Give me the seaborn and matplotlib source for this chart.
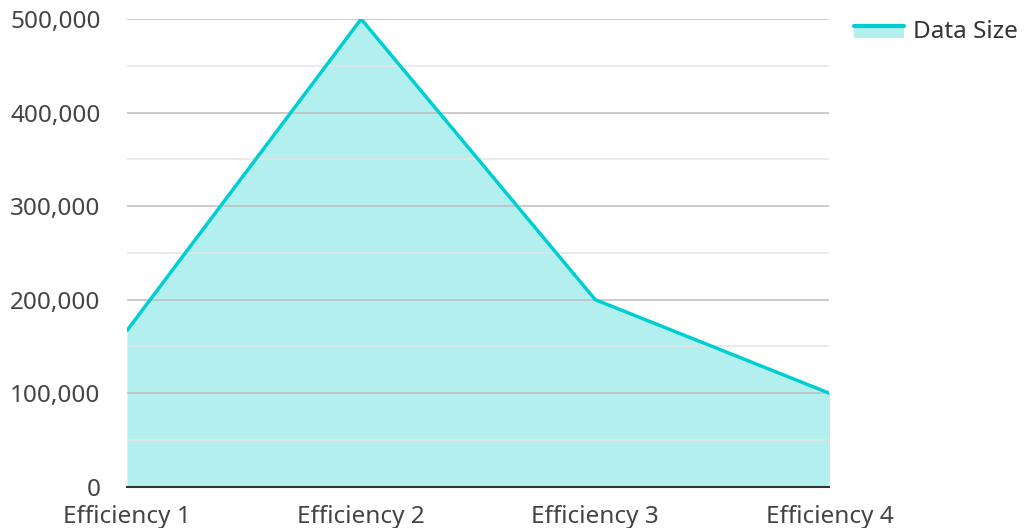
import matplotlib
matplotlib.use("Agg")
import matplotlib.pyplot as plt
import matplotlib.ticker as mticker
from matplotlib.legend_handler import HandlerBase
from matplotlib.patches import Rectangle
from matplotlib.lines import Line2D
import pandas as pd
import seaborn as sns

categories = ["Efficiency 1", "Efficiency 2", "Efficiency 3", "Efficiency 4"]
data_size = [167000, 500000, 200000, 100000]
series_name = "Data Size"

line_col = "#00cfd1"
fill_col = "#b2efee"
fs = 17.5

sns.set_style("white")
plt.rcParams['font.family'] = ['Noto Sans', 'DejaVu Sans']
plt.rcParams['axes.axisbelow'] = 'line'

df = pd.DataFrame({"cat": categories, "pos": range(len(categories)), "val": data_size})

fig = plt.figure(figsize=(10.24, 5.28), dpi=100)
ax = fig.add_axes([0.124, 0.078, 0.686, 0.886])

ax.fill_between(df["pos"], 0, df["val"], color=fill_col, lw=0, zorder=1)
sns.lineplot(data=df, x="pos", y="val", ax=ax, color=line_col, lw=2.5, zorder=3)

ax.set_xlim(0, len(categories) - 1)
ax.set_ylim(0, 500000)
ax.set_xticks(df["pos"])
ax.set_xticklabels(categories)
ax.yaxis.set_major_locator(mticker.MultipleLocator(100000))
ax.yaxis.set_minor_locator(mticker.MultipleLocator(50000))
ax.yaxis.set_major_formatter(mticker.StrMethodFormatter("{x:,.0f}"))
ax.grid(axis="y", which="major", color="#bdbdbd", lw=1.1, zorder=1.5)
ax.grid(axis="y", which="minor", color="#e4e4e4", lw=1.1, zorder=1.5)
ax.set_xlabel("")
ax.set_ylabel("")
ax.tick_params(axis="both", which="both", length=0, labelsize=fs, colors="#444444")
ax.tick_params(axis="y", pad=19)
ax.tick_params(axis="x", pad=13)
for s in ["left", "right", "top"]:
    ax.spines[s].set_visible(False)
ax.spines["bottom"].set_color("#333333")
ax.spines["bottom"].set_linewidth(1.5)
ax.spines["bottom"].set_zorder(4)


class AreaHandler(HandlerBase):
    def create_artists(self, legend, orig, xd, yd, w, h, fontsize, trans):
        rect = Rectangle((xd, yd), w, h * 0.7, facecolor=fill_col, lw=0, transform=trans)
        ln = Line2D([xd, xd + w], [yd + h * 0.75, yd + h * 0.75], color=line_col, lw=3, transform=trans)
        return [rect, ln]


leg = fig.legend([Rectangle((0, 0), 1, 1)], [series_name], handler_map={Rectangle: AreaHandler()},
                 loc="upper left", bbox_to_anchor=(0.813, 1.003), frameon=False, fontsize=fs,
                 handlelength=2.05, handletextpad=0.38)
for t in leg.get_texts():
    t.set_color("#333333")

fig.savefig("out.png", dpi=100)
